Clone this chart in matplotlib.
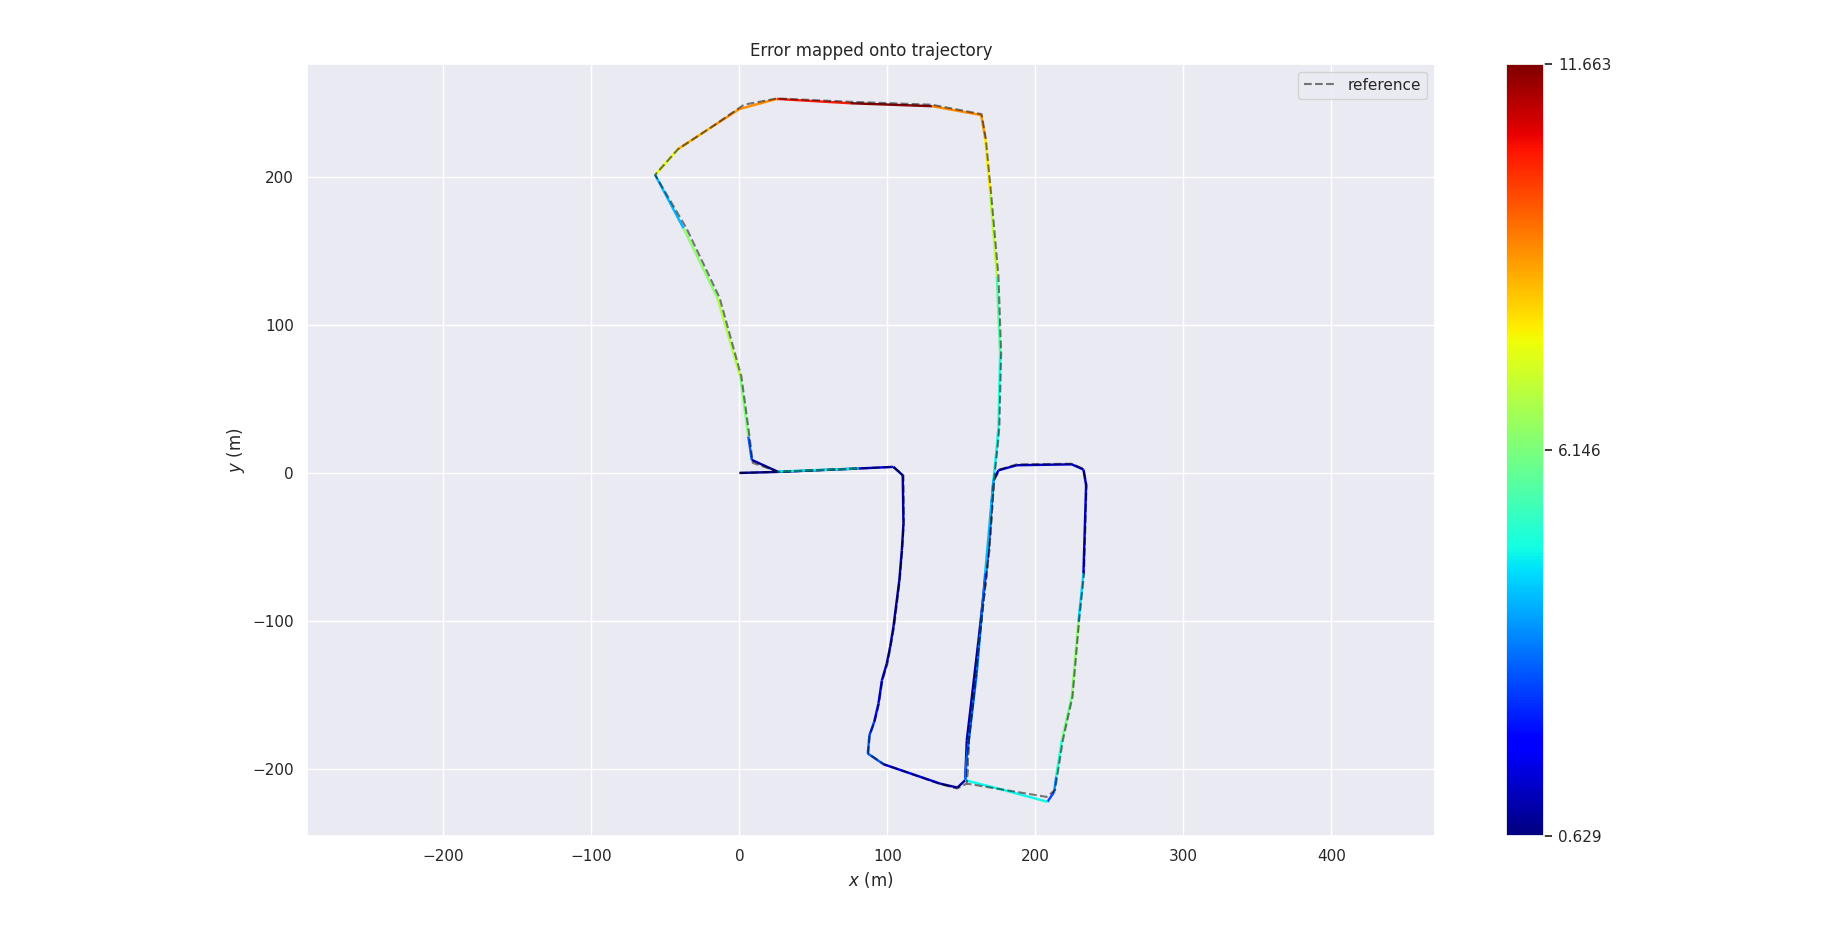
# Error mapped onto trajectory
import numpy as np
import matplotlib
matplotlib.use("Agg")
import matplotlib.pyplot as plt
from matplotlib.collections import LineCollection
import seaborn as sns

# --- DATA ---
ERR_MIN = 0.629
ERR_MAX = 11.663

traj_x = [0, 26.3, 80.4, 104, 110.3, 110.8, 109.7, 108, 104, 101.8, 99.5, 96.2, 93.9, 91, 87.8, 86.7, 97.3,
          135.6, 147.3, 152.5, 153.6, 161.5, 168.2, 171.6, 175, 187.4, 224.5, 232.4, 234.2, 232.4, 229, 224.5,
          217.8, 214, 212.6, 208.1, 177.2, 152.5, 153.6, 160.3, 166, 171.6, 173.9, 175, 176.1, 173.9, 169.4,
          166, 163.3, 130, 74.8, 25.2, 0, -17.6, -41.5, -57, -37.8, -15, 0.5, 6, 8.3, 25.7, 80.4]
traj_y = [0.2, 0.9, 3.2, 4.3, -1.4, -34, -52, -72.3, -103.8, -117.3, -128.6, -140, -155.6, -168, -177, -189.4,
          -196.6, -209.7, -212.4, -207.4, -180.4, -112.8, -52, -4.7, 2, 5.4, 6, 2.5, -8, -67.8, -100.4, -151,
          -180.4, -205, -215.3, -222, -213.7, -207.4, -191.6, -135.3, -67.8, -4.7, 18, 31.5, 81, 132.9, 189.2,
          226.3, 242, 248, 250, 252.9, 246.1, 234.7, 219, 201.6, 165.5, 118.5, 65.3, 24.8, 9, 1.1, 3.2]
# error per segment, one less than the points
traj_err = [1.0, 1.2, 1.6, 1.0, 1.2, 1.0, 1.0, 1.0, 1.2, 1.1, 1.5, 1.7, 2.1, 2.6, 3.0, 3.0,
            1.8, 1.0, 1.0, 1.1, 1.1, 1.0, 1.0, 1.5, 1.5, 1.4, 1.4, 1.3, 1.6, 4.3, 6.4,
            6.0, 5.0, 3.6, 2.8, 4.7, 4.7, 3.2, 3.0, 3.2, 4.0, 4.6, 4.7, 4.9, 5.6, 7.0,
            7.9, 8.9, 9.0, 11.6, 10.3, 9.0, 9.0, 8.6, 7.6, 4.0, 6.4, 6.8, 6.2, 3.0, 1.0, 4.6]

ref_x = [0, 26.3, 80.4, 104, 110.8, 111, 110, 108.3, 104.5, 100, 96.5, 94.3, 91.3, 88, 87, 97.5, 135.6, 147,
         153.6, 155, 162, 168.8, 172, 176, 187.4, 224.5, 232.4, 234.5, 232.8, 229.4, 225, 218.5, 213.2, 207.6,
         153.6, 155, 162, 168.8, 172, 174.4, 175.6, 176.8, 175, 170, 166.4, 163.6, 130, 74.8, 25.2, 3, -17.6, -41.5,
         -57, -35.8, -13.4, 1.3, 6.8, 9, 26.3, 80.4]
ref_y = [0.2, 0.9, 3.2, 4.3, -1.4, -34, -52, -72.3, -103.8, -128.6, -140, -155.6, -168, -177, -189.4, -196.6,
         -210, -213, -209.7, -180.4, -112.8, -52, -4.7, 2.6, 6, 6.4, 3, -8, -67.8, -100.4, -151, -180.4, -214,
         -218.7, -209.7, -180.4, -112.8, -52, -4.7, 18, 31.5, 81, 132.9, 189.2, 226.3, 242.6, 249, 251, 253.2,
         249, 234.7, 219, 201.6, 165.5, 118.5, 65.3, 24.8, 7, 0.9, 3.2]

x_ticks = [-200, -100, 0, 100, 200, 300, 400]
y_ticks = [-200, -100, 0, 100, 200]
cbar_ticks = [ERR_MIN, (ERR_MIN + ERR_MAX) / 2, ERR_MAX]

# --- PLOTTING ---
sns.set_theme(style="darkgrid")
plt.rcParams['font.family'] = ['DejaVu Sans']

W, H = 1832, 951
fig = plt.figure(figsize=(W / 100, H / 100), dpi=100)
ax = fig.add_axes([307 / W, 1 - 836 / H, 1127.5 / W, 772 / H])

points = np.column_stack([traj_x, traj_y]).reshape(-1, 1, 2)
segments = np.concatenate([points[:-1], points[1:]], axis=1)
norm = plt.Normalize(ERR_MIN, ERR_MAX)
lc = LineCollection(segments, cmap='jet', norm=norm, linewidths=1.75, zorder=2)
lc.set_array(np.array(traj_err))
ax.add_collection(lc)

ax.plot(ref_x, ref_y, '--', color='black', alpha=0.5, linewidth=1.5, label='reference', zorder=3)

ax.set_xlim(-292.2, 469.6)
ax.set_ylim(-245.1, 276.5)
ax.set_xticks(x_ticks)
ax.set_yticks(y_ticks)
ax.set_title("Error mapped onto trajectory", fontsize=12)
ax.set_xlabel("$x$ (m)")
ax.set_ylabel("$y$ (m)")
ax.legend(loc='upper right', frameon=True)

cax = fig.add_axes([1506 / W, 1 - 836 / H, 37.5 / W, 772 / H])
sm = plt.cm.ScalarMappable(norm=norm, cmap='jet')
cbar = fig.colorbar(sm, cax=cax, ticks=cbar_ticks, format="%.3f")
cax.tick_params(right=True, length=6, width=1.25, color='#262626', pad=4.5)

fig.savefig("out.png", dpi=100)
